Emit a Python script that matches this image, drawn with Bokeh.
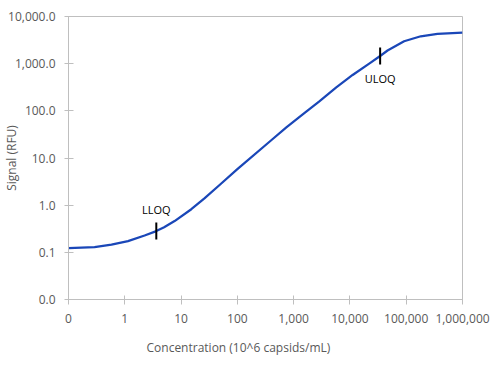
import math
from bokeh.plotting import figure
from bokeh.models import FixedTicker, Title, ColumnDataSource
from bokeh.core.properties import value
from bokeh.embed import file_html
from bokeh.resources import INLINE

# Curve (concentration in 10^6 capsids/mL, signal in RFU)
conc = [0.1, 0.29, 0.58, 1.14, 2.25, 3.63, 5, 7.67, 15.2, 26, 50, 100, 400, 733,
        1450, 2860, 5650, 11170, 22000, 34400, 46600, 91800, 181500, 359000,
        1000000]
signal = [0.1228, 0.129, 0.145, 0.173, 0.228, 0.282, 0.341, 0.46, 0.82, 1.39,
          2.78, 5.8, 23.8, 44, 84, 159, 311, 576, 1005, 1456, 1900, 2990, 3810,
          4270, 4570]

# Limits of quantification
loq_names = ["LLOQ", "ULOQ"]
loq_conc = [3.63, 34400]
loq_signal = [0.282, 1456]

# Axis ticks and their labels ("0" / "0.0" sit at the bottom of each log axis)
x_ticks = [0.1, 1, 10, 100, 1000, 10000, 100000, 1000000]
x_tick_labels = ["0", "1", "10", "100", "1,000", "10,000", "100,000", "1,000,000"]
y_ticks = [0.01, 0.1, 1, 10, 100, 1000, 10000]
y_tick_labels = ["0.0", "0.1", "1.0", "10.0", "100.0", "1,000.0", "10,000.0"]

x_title = "Concentration (10^6 capsids/mL)"
y_title = "Signal (RFU)"

FONT = "Open Sans"
GREY_TXT = "#595959"
GREY_LINE = "#bfbfbf"

p = figure(width=500, height=368, x_axis_type="log", y_axis_type="log",
           x_range=(x_ticks[0], x_ticks[-1]), y_range=(y_ticks[0], y_ticks[-1]),
           output_backend="svg", toolbar_location=None,
           min_border_left=67, min_border_right=38, min_border_top=16,
           min_border_bottom=69)
p.background_fill_color = "white"
p.border_fill_color = "white"
p.outline_line_color = GREY_LINE
p.outline_line_width = 1
p.xgrid.visible = False
p.ygrid.visible = False

p.line(conc, signal, line_color="#1a47b8", line_width=2.25, line_join="round")

src = ColumnDataSource(dict(x=loq_conc, y=loq_signal, name=loq_names,
                            off=[-22, 23]))
p.scatter("x", "y", source=src, marker="dash", size=17, angle=math.pi / 2,
          line_color="black", line_width=2)
p.text("x", "y", text="name", source=src, y_offset="off", text_align="center",
       text_baseline="middle", text_font=value(FONT), text_font_size="11px",
       text_color="black")

for ax, ticks, labels in ((p.xaxis[0], x_ticks, x_tick_labels),
                          (p.yaxis[0], y_ticks, y_tick_labels)):
    ax.ticker = FixedTicker(ticks=ticks, minor_ticks=[])
    ax.major_label_overrides = dict(zip(ticks, labels))
    ax.axis_line_color = GREY_LINE
    ax.major_tick_line_color = GREY_LINE
    ax.minor_tick_line_color = None
    ax.major_label_text_color = GREY_TXT
    ax.major_label_text_font = FONT
    ax.major_label_text_font_size = "12px"

p.xaxis.major_tick_in = 4
p.xaxis.major_tick_out = 5
p.xaxis.major_label_standoff = 9
p.yaxis.major_tick_in = 5
p.yaxis.major_tick_out = 4
p.yaxis.major_label_standoff = 9

# y title: axis label pulled in over the tick-label column
p.yaxis.axis_label = y_title
p.yaxis.axis_label_standoff = -15
p.yaxis.axis_label_text_font = FONT
p.yaxis.axis_label_text_font_size = "12px"
p.yaxis.axis_label_text_font_style = "normal"
p.yaxis.axis_label_text_color = GREY_TXT

# x title: placed below the axis, shifted left like the reference
p.add_layout(Title(text=x_title, align="left", offset=78, vertical_align="middle",
                   standoff=24, text_font=FONT, text_font_size="12px",
                   text_font_style="normal", text_color=GREY_TXT), "below")

open("out.html", "w").write(file_html(p, INLINE))
